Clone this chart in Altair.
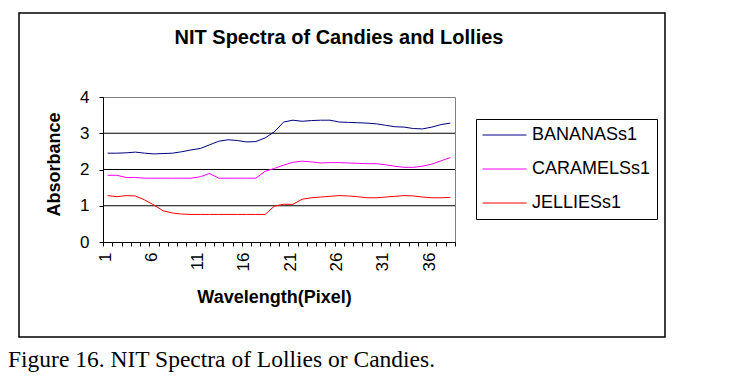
import altair as alt
import pandas as pd

# Wavelength index (pixel) for every reading
pixels = list(range(1, 39))

# Absorbance readings per sample
bananas = [2.45, 2.45, 2.46, 2.48, 2.45, 2.43, 2.44, 2.45, 2.49, 2.54,
           2.58, 2.68, 2.78, 2.82, 2.80, 2.76, 2.77, 2.87, 3.04, 3.31,
           3.36, 3.33, 3.35, 3.36, 3.36, 3.31, 3.30, 3.29, 3.28, 3.26,
           3.22, 3.18, 3.17, 3.13, 3.12, 3.17, 3.24, 3.28]
caramels = [1.84, 1.84, 1.78, 1.78, 1.76, 1.76, 1.76, 1.76, 1.76, 1.76,
            1.80, 1.89, 1.76, 1.76, 1.76, 1.76, 1.76, 1.95, 2.03, 2.12,
            2.20, 2.23, 2.21, 2.18, 2.19, 2.19, 2.18, 2.17, 2.16, 2.16,
            2.13, 2.09, 2.06, 2.06, 2.09, 2.15, 2.24, 2.33]
jellies = [1.28, 1.25, 1.28, 1.27, 1.16, 1.02, 0.86, 0.80, 0.77, 0.76,
           0.76, 0.76, 0.76, 0.76, 0.76, 0.76, 0.76, 0.76, 0.99, 1.04,
           1.04, 1.18, 1.22, 1.24, 1.26, 1.28, 1.27, 1.25, 1.22, 1.22,
           1.24, 1.26, 1.28, 1.27, 1.24, 1.22, 1.22, 1.23]

series_names = ["BANANASs1", "CARAMELSs1", "JELLIESs1"]
series_colors = ["#000080", "#FF00FF", "#FF0000"]

y_ticks = [0, 1, 2, 3, 4]
grid_levels = [1, 2, 3]

chart_title = "NIT Spectra of Candies and Lollies"
x_title = "Wavelength(Pixel)"
y_title = "Absorbance"
caption = "Figure 16. NIT Spectra of Lollies or Candies."

rows = []
for name, values in zip(series_names, [bananas, caramels, jellies]):
    for p, v in zip(pixels, values):
        rows.append({"pixel": p, "absorbance": v, "sample": name})
df = pd.DataFrame(rows)

# tick marks sit on the category boundaries, labels in the middle of each band
band_edges = [p - 0.5 for p in pixels] + [pixels[-1] + 0.5]

FONT = "Liberation Sans"
W, H = 352, 145
LEFT, TOP = 103, 97

x_scale = alt.Scale(domain=[band_edges[0], band_edges[-1]], nice=False, zero=False)
y_scale = alt.Scale(domain=[0, 4], nice=False)

y_axis = alt.Axis(
    values=y_ticks,
    format="d",
    labelFont=FONT,
    labelFontSize=17,
    labelColor="black",
    labelPadding=10,
    tickSize=4,
    tickColor="black",
    domainColor="black",
    grid=False,
    title=y_title,
    titleFont=FONT,
    titleFontSize=18,
    titleFontWeight="bold",
    titleColor="black",
    titleAngle=270,
    titleX=-44,
    titleY=67,
    titleAlign="center",
    titleBaseline="alphabetic",
)

frame = alt.Chart(pd.DataFrame({"k": [0]})).mark_rect(
    fillOpacity=0, stroke="black", strokeWidth=1.5
).encode(
    x=alt.value(-84), x2=alt.value(562), y=alt.value(-84), y2=alt.value(240)
)

grid = alt.Chart(pd.DataFrame({"absorbance": grid_levels})).mark_rule(
    color="black", strokeWidth=1
).encode(y=alt.Y("absorbance:Q", scale=y_scale, axis=y_axis))

lines = alt.Chart(df).mark_line(strokeWidth=1).encode(
    x=alt.X(
        "pixel:Q",
        scale=x_scale,
        axis=alt.Axis(
            values=band_edges,
            labelExpr="(datum.value - 0.5) % 5 == 0 ? format(datum.value + 0.5, 'd') : ''",
            labelAngle=270,
            labelOffset=2,
            labelPadding=6,
            labelFlush=False,
            labelOverlap=False,
            labelBound=False,
            labelFont=FONT,
            labelFontSize=17,
            labelColor="black",
            tickSize=4,
            tickColor="black",
            domainColor="black",
            grid=False,
            title=x_title,
            titleFont=FONT,
            titleFontSize=18,
            titleFontWeight="bold",
            titleColor="black",
            titleX=171,
            titleY=60,
            titleAlign="center",
            titleBaseline="alphabetic",
        ),
    ),
    y=alt.Y("absorbance:Q", scale=y_scale, axis=y_axis),
    color=alt.Color(
        "sample:N",
        scale=alt.Scale(domain=series_names, range=series_colors),
        legend=alt.Legend(
            title=None,
            orient="none",
            legendX=373,
            legendY=22,
            symbolType="stroke",
            symbolSize=1936,
            symbolStrokeWidth=1,
            clipHeight=20,
            rowPadding=14,
            padding=6,
            labelOffset=5,
            labelFont=FONT,
            labelFontSize=18,
            labelColor="black",
            strokeColor="black",
            fillColor="white",
        ),
    ),
)

title_mark = alt.Chart(pd.DataFrame({"t": [chart_title]})).mark_text(
    font=FONT, fontSize=20, fontWeight="bold", align="center", baseline="alphabetic", color="black"
).encode(text="t:N", x=alt.value(236), y=alt.value(-53))

caption_mark = alt.Chart(pd.DataFrame({"t": [caption]})).mark_text(
    font="Liberation Serif", fontSize=23.5, align="left", baseline="alphabetic", color="black"
).encode(text="t:N", x=alt.value(-95), y=alt.value(270))

chart = alt.layer(frame, grid, lines, title_mark, caption_mark).properties(
    width=W,
    height=H,
    autosize=alt.AutoSizeParams(type="none"),
    padding={"left": LEFT, "top": TOP, "right": 738 - LEFT - W, "bottom": 389 - TOP - H},
    background="white",
).configure_view(stroke="#808080", strokeWidth=1)

chart.save("out.html", embed_options={"renderer": "svg", "actions": False})
